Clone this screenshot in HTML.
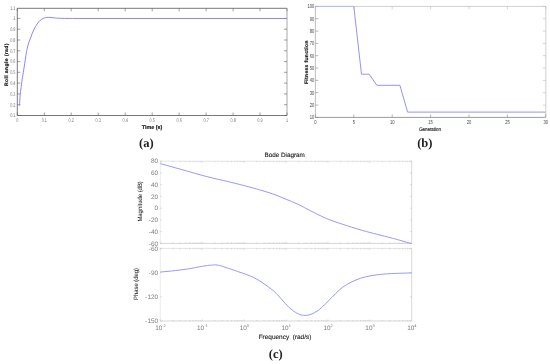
<!DOCTYPE html><html><head><meta charset="utf-8"><title>Figure</title><style>html,body{margin:0;padding:0;background:#fff}svg{display:block}text{font-family:"Liberation Sans",sans-serif;text-rendering:geometricPrecision}.cap{font-family:"Liberation Serif",serif;font-weight:bold;font-size:12.5px;fill:#222}</style></head><body>
<svg width="550" height="364" viewBox="0 0 550 364">
<rect width="550" height="364" fill="#fff"/>
<g stroke="#606060" stroke-width="0.85" fill="none"><path d="M287.0,8.3H17.3V115.5H287.0"/><path d="M287.0,8.3V115.5" stroke="#999"/>
<path d="M17.3,115.5v-3M17.3,8.3v3M17.3,115.5h3M287.0,115.5h-3M44.3,115.5v-3M44.3,8.3v3M17.3,104.7h3M287.0,104.7h-3M71.2,115.5v-3M71.2,8.3v3M17.3,93.9h3M287.0,93.9h-3M98.2,115.5v-3M98.2,8.3v3M17.3,83.1h3M287.0,83.1h-3M125.2,115.5v-3M125.2,8.3v3M17.3,72.3h3M287.0,72.3h-3M152.2,115.5v-3M152.2,8.3v3M17.3,61.6h3M287.0,61.6h-3M179.1,115.5v-3M179.1,8.3v3M17.3,50.8h3M287.0,50.8h-3M206.1,115.5v-3M206.1,8.3v3M17.3,40.0h3M287.0,40.0h-3M233.1,115.5v-3M233.1,8.3v3M17.3,29.2h3M287.0,29.2h-3M260.0,115.5v-3M260.0,8.3v3M17.3,18.4h3M287.0,18.4h-3M287.0,115.5v-3M287.0,8.3v3" stroke-width="0.6"/></g>
<g fill="#777">
<text transform="translate(17.3,121.6) scale(0.72,1)" text-anchor="middle" font-size="5.3">0</text>
<text transform="translate(15.5,117.3) scale(0.72,1)" text-anchor="end" font-size="5.3">0.1</text>
<text transform="translate(44.3,121.6) scale(0.72,1)" text-anchor="middle" font-size="5.3">0.1</text>
<text transform="translate(15.5,106.5) scale(0.72,1)" text-anchor="end" font-size="5.3">0.2</text>
<text transform="translate(71.2,121.6) scale(0.72,1)" text-anchor="middle" font-size="5.3">0.2</text>
<text transform="translate(15.5,95.7) scale(0.72,1)" text-anchor="end" font-size="5.3">0.3</text>
<text transform="translate(98.2,121.6) scale(0.72,1)" text-anchor="middle" font-size="5.3">0.3</text>
<text transform="translate(15.5,84.9) scale(0.72,1)" text-anchor="end" font-size="5.3">0.4</text>
<text transform="translate(125.2,121.6) scale(0.72,1)" text-anchor="middle" font-size="5.3">0.4</text>
<text transform="translate(15.5,74.1) scale(0.72,1)" text-anchor="end" font-size="5.3">0.5</text>
<text transform="translate(152.2,121.6) scale(0.72,1)" text-anchor="middle" font-size="5.3">0.5</text>
<text transform="translate(15.5,63.4) scale(0.72,1)" text-anchor="end" font-size="5.3">0.6</text>
<text transform="translate(179.1,121.6) scale(0.72,1)" text-anchor="middle" font-size="5.3">0.6</text>
<text transform="translate(15.5,52.6) scale(0.72,1)" text-anchor="end" font-size="5.3">0.7</text>
<text transform="translate(206.1,121.6) scale(0.72,1)" text-anchor="middle" font-size="5.3">0.7</text>
<text transform="translate(15.5,41.8) scale(0.72,1)" text-anchor="end" font-size="5.3">0.8</text>
<text transform="translate(233.1,121.6) scale(0.72,1)" text-anchor="middle" font-size="5.3">0.8</text>
<text transform="translate(15.5,31.0) scale(0.72,1)" text-anchor="end" font-size="5.3">0.9</text>
<text transform="translate(260.0,121.6) scale(0.72,1)" text-anchor="middle" font-size="5.3">0.9</text>
<text transform="translate(15.5,20.2) scale(0.72,1)" text-anchor="end" font-size="5.3">1</text>
<text transform="translate(287.0,121.6) scale(0.72,1)" text-anchor="middle" font-size="5.3">1</text>
<text transform="translate(15.5,9.9) scale(0.72,1)" text-anchor="end" font-size="5.3">1.1</text>
</g>
<text x="152.1" y="129.3" text-anchor="middle"  font-size="5.4" font-weight="bold" fill="#1a1a1a" stroke="#1a1a1a" stroke-width="0.15" textLength="20.6" lengthAdjust="spacingAndGlyphs">Time (s)</text>
<text transform="translate(7.6,64.8) rotate(-90)" text-anchor="middle" font-size="5" font-weight="bold" fill="#1a1a1a" stroke="#1a1a1a" stroke-width="0.2" textLength="42.4" lengthAdjust="spacing">Roll angle (rad)</text>
<path d="M19.9,104.2L19.5,105.4L19.50,105.40C19.62,103.58 19.80,98.52 20.20,94.50C20.60,90.48 21.45,84.60 21.90,81.30C22.35,78.00 22.42,77.72 22.90,74.70C23.38,71.68 24.25,66.73 24.80,63.20C25.35,59.67 25.78,56.00 26.20,53.50C26.62,51.00 26.87,50.03 27.30,48.20C27.73,46.37 28.25,44.22 28.80,42.50C29.35,40.78 30.03,39.40 30.60,37.90C31.17,36.40 31.65,34.87 32.20,33.50C32.75,32.13 33.35,30.87 33.90,29.70C34.45,28.53 34.95,27.47 35.50,26.50C36.05,25.53 36.65,24.68 37.20,23.90C37.75,23.12 38.25,22.43 38.80,21.80C39.35,21.17 39.97,20.57 40.50,20.10C41.03,19.63 41.45,19.33 42.00,19.00C42.55,18.67 43.22,18.33 43.80,18.10C44.38,17.87 44.95,17.72 45.50,17.60C46.05,17.48 46.35,17.42 47.10,17.40C47.85,17.38 49.05,17.45 50.00,17.50C50.95,17.55 51.97,17.62 52.80,17.70C53.63,17.78 54.17,17.92 55.00,18.00C55.83,18.08 56.23,18.13 57.80,18.20C59.37,18.27 60.70,18.35 64.40,18.40C68.10,18.45 77.40,18.48 80.00,18.50H287" fill="none" stroke="#8080ff" stroke-width="0.95" stroke-linejoin="round"/>
<text class="cap" x="146.3" y="147.2" text-anchor="middle">(a)</text>
<g stroke-width="0.8" fill="none"><path d="M315.4,6.4H545.8V117.4" stroke="#c4c4c4"/><path d="M315.4,6.4V117.4" stroke="#a4a4a4" stroke-width="0.7"/><path d="M315.4,117.4H545.8" stroke="#808080"/>
<path d="M315.4,117.4v-3M353.8,117.4v-3M392.2,117.4v-3M430.6,117.4v-3M469.0,117.4v-3M507.4,117.4v-3M545.8,117.4v-3M315.4,117.4h3M315.4,105.1h3M315.4,92.7h3M315.4,80.4h3M315.4,68.1h3M315.4,55.7h3M315.4,43.4h3M315.4,31.1h3M315.4,18.7h3M315.4,6.4h3" stroke="#888" stroke-width="0.6"/><path d="M315.4,6.4v3M353.8,6.4v3M392.2,6.4v3M430.6,6.4v3M469.0,6.4v3M507.4,6.4v3M545.8,6.4v3M545.8,117.4h-3M545.8,105.1h-3M545.8,92.7h-3M545.8,80.4h-3M545.8,68.1h-3M545.8,55.7h-3M545.8,43.4h-3M545.8,31.1h-3M545.8,18.7h-3M545.8,6.4h-3" stroke="#bbb" stroke-width="0.6"/></g>
<g fill="#444">
<text transform="translate(315.4,123.8) scale(0.72,1)" text-anchor="middle" font-size="5.7">0</text>
<text transform="translate(353.8,123.8) scale(0.72,1)" text-anchor="middle" font-size="5.7">5</text>
<text transform="translate(392.2,123.8) scale(0.72,1)" text-anchor="middle" font-size="5.7">10</text>
<text transform="translate(430.6,123.8) scale(0.72,1)" text-anchor="middle" font-size="5.7">15</text>
<text transform="translate(469.0,123.8) scale(0.72,1)" text-anchor="middle" font-size="5.7">20</text>
<text transform="translate(507.4,123.8) scale(0.72,1)" text-anchor="middle" font-size="5.7">25</text>
<text transform="translate(545.8,123.8) scale(0.72,1)" text-anchor="middle" font-size="5.7">30</text>
<text transform="translate(314.4,119.3) scale(0.72,1)" text-anchor="end" font-size="5.7">10</text>
<text transform="translate(314.4,107.0) scale(0.72,1)" text-anchor="end" font-size="5.7">20</text>
<text transform="translate(314.4,94.6) scale(0.72,1)" text-anchor="end" font-size="5.7">30</text>
<text transform="translate(314.4,82.3) scale(0.72,1)" text-anchor="end" font-size="5.7">40</text>
<text transform="translate(314.4,70.0) scale(0.72,1)" text-anchor="end" font-size="5.7">50</text>
<text transform="translate(314.4,57.6) scale(0.72,1)" text-anchor="end" font-size="5.7">60</text>
<text transform="translate(314.4,45.3) scale(0.72,1)" text-anchor="end" font-size="5.7">70</text>
<text transform="translate(314.4,33.0) scale(0.72,1)" text-anchor="end" font-size="5.7">80</text>
<text transform="translate(314.4,20.6) scale(0.72,1)" text-anchor="end" font-size="5.7">90</text>
<text transform="translate(314.4,8.3) scale(0.72,1)" text-anchor="end" font-size="5.7">100</text>
</g>
<text x="430" y="131.1" text-anchor="middle" font-size="5.4" fill="#222" stroke="#222" stroke-width="0.15" textLength="21.7" lengthAdjust="spacingAndGlyphs">Generation</text>
<text transform="translate(307.7,62.3) rotate(-90)" text-anchor="middle" font-size="5" font-weight="bold" fill="#1a1a1a" stroke="#1a1a1a" stroke-width="0.2" textLength="43.6" lengthAdjust="spacing">Fitness function</text>
<path d="M315.4,6.4H353.8" stroke="#b4b4ff" stroke-width="0.9"/>
<polyline points="353.8,6.4 361.5,74.2 369.2,74.2 376.8,85.3 399.9,85.3 407.6,112.1 545.8,112.1" fill="none" stroke="#8c8cff" stroke-width="0.95" stroke-linejoin="round"/>
<text class="cap" x="424.8" y="146.9" text-anchor="middle">(b)</text>
<g stroke-width="0.7" fill="none">
<path d="M160.3,161.2V243.4" stroke="#e2e2e2"/><path d="M160.3,161.2H411.7" stroke="#d8d8d8"/><path d="M160.3,243.4H411.7" stroke="#c4c4c4"/><path d="M411.7,161.2V243.4" stroke="#c8c8c8"/>
<path d="M160.3,248.4V321.0" stroke="#e2e2e2"/><path d="M160.3,248.4H411.7" stroke="#d8d8d8"/><path d="M160.3,321.0H411.7" stroke="#c4c4c4"/><path d="M411.7,248.4V321.0" stroke="#c8c8c8"/>
<path d="M160.3,243.4v-1.6M160.3,161.2v1.6M160.3,321.0v-1.6M160.3,248.4v1.6M172.9,243.4v-1.0M172.9,161.2v1.0M172.9,321.0v-1.0M172.9,248.4v1.0M180.3,243.4v-1.0M180.3,161.2v1.0M180.3,321.0v-1.0M180.3,248.4v1.0M185.5,243.4v-1.0M185.5,161.2v1.0M185.5,321.0v-1.0M185.5,248.4v1.0M189.6,243.4v-1.0M189.6,161.2v1.0M189.6,321.0v-1.0M189.6,248.4v1.0M192.9,243.4v-1.0M192.9,161.2v1.0M192.9,321.0v-1.0M192.9,248.4v1.0M195.7,243.4v-1.0M195.7,161.2v1.0M195.7,321.0v-1.0M195.7,248.4v1.0M198.1,243.4v-1.0M198.1,161.2v1.0M198.1,321.0v-1.0M198.1,248.4v1.0M200.3,243.4v-1.0M200.3,161.2v1.0M200.3,321.0v-1.0M200.3,248.4v1.0M202.2,243.4v-1.6M202.2,161.2v1.6M202.2,321.0v-1.6M202.2,248.4v1.6M214.8,243.4v-1.0M214.8,161.2v1.0M214.8,321.0v-1.0M214.8,248.4v1.0M222.2,243.4v-1.0M222.2,161.2v1.0M222.2,321.0v-1.0M222.2,248.4v1.0M227.4,243.4v-1.0M227.4,161.2v1.0M227.4,321.0v-1.0M227.4,248.4v1.0M231.5,243.4v-1.0M231.5,161.2v1.0M231.5,321.0v-1.0M231.5,248.4v1.0M234.8,243.4v-1.0M234.8,161.2v1.0M234.8,321.0v-1.0M234.8,248.4v1.0M237.6,243.4v-1.0M237.6,161.2v1.0M237.6,321.0v-1.0M237.6,248.4v1.0M240.0,243.4v-1.0M240.0,161.2v1.0M240.0,321.0v-1.0M240.0,248.4v1.0M242.2,243.4v-1.0M242.2,161.2v1.0M242.2,321.0v-1.0M242.2,248.4v1.0M244.1,243.4v-1.6M244.1,161.2v1.6M244.1,321.0v-1.6M244.1,248.4v1.6M256.7,243.4v-1.0M256.7,161.2v1.0M256.7,321.0v-1.0M256.7,248.4v1.0M264.1,243.4v-1.0M264.1,161.2v1.0M264.1,321.0v-1.0M264.1,248.4v1.0M269.3,243.4v-1.0M269.3,161.2v1.0M269.3,321.0v-1.0M269.3,248.4v1.0M273.4,243.4v-1.0M273.4,161.2v1.0M273.4,321.0v-1.0M273.4,248.4v1.0M276.7,243.4v-1.0M276.7,161.2v1.0M276.7,321.0v-1.0M276.7,248.4v1.0M279.5,243.4v-1.0M279.5,161.2v1.0M279.5,321.0v-1.0M279.5,248.4v1.0M281.9,243.4v-1.0M281.9,161.2v1.0M281.9,321.0v-1.0M281.9,248.4v1.0M284.1,243.4v-1.0M284.1,161.2v1.0M284.1,321.0v-1.0M284.1,248.4v1.0M286.0,243.4v-1.6M286.0,161.2v1.6M286.0,321.0v-1.6M286.0,248.4v1.6M298.6,243.4v-1.0M298.6,161.2v1.0M298.6,321.0v-1.0M298.6,248.4v1.0M306.0,243.4v-1.0M306.0,161.2v1.0M306.0,321.0v-1.0M306.0,248.4v1.0M311.2,243.4v-1.0M311.2,161.2v1.0M311.2,321.0v-1.0M311.2,248.4v1.0M315.3,243.4v-1.0M315.3,161.2v1.0M315.3,321.0v-1.0M315.3,248.4v1.0M318.6,243.4v-1.0M318.6,161.2v1.0M318.6,321.0v-1.0M318.6,248.4v1.0M321.4,243.4v-1.0M321.4,161.2v1.0M321.4,321.0v-1.0M321.4,248.4v1.0M323.8,243.4v-1.0M323.8,161.2v1.0M323.8,321.0v-1.0M323.8,248.4v1.0M326.0,243.4v-1.0M326.0,161.2v1.0M326.0,321.0v-1.0M326.0,248.4v1.0M327.9,243.4v-1.6M327.9,161.2v1.6M327.9,321.0v-1.6M327.9,248.4v1.6M340.5,243.4v-1.0M340.5,161.2v1.0M340.5,321.0v-1.0M340.5,248.4v1.0M347.9,243.4v-1.0M347.9,161.2v1.0M347.9,321.0v-1.0M347.9,248.4v1.0M353.1,243.4v-1.0M353.1,161.2v1.0M353.1,321.0v-1.0M353.1,248.4v1.0M357.2,243.4v-1.0M357.2,161.2v1.0M357.2,321.0v-1.0M357.2,248.4v1.0M360.5,243.4v-1.0M360.5,161.2v1.0M360.5,321.0v-1.0M360.5,248.4v1.0M363.3,243.4v-1.0M363.3,161.2v1.0M363.3,321.0v-1.0M363.3,248.4v1.0M365.7,243.4v-1.0M365.7,161.2v1.0M365.7,321.0v-1.0M365.7,248.4v1.0M367.9,243.4v-1.0M367.9,161.2v1.0M367.9,321.0v-1.0M367.9,248.4v1.0M369.8,243.4v-1.6M369.8,161.2v1.6M369.8,321.0v-1.6M369.8,248.4v1.6M382.4,243.4v-1.0M382.4,161.2v1.0M382.4,321.0v-1.0M382.4,248.4v1.0M389.8,243.4v-1.0M389.8,161.2v1.0M389.8,321.0v-1.0M389.8,248.4v1.0M395.0,243.4v-1.0M395.0,161.2v1.0M395.0,321.0v-1.0M395.0,248.4v1.0M399.1,243.4v-1.0M399.1,161.2v1.0M399.1,321.0v-1.0M399.1,248.4v1.0M402.4,243.4v-1.0M402.4,161.2v1.0M402.4,321.0v-1.0M402.4,248.4v1.0M405.2,243.4v-1.0M405.2,161.2v1.0M405.2,321.0v-1.0M405.2,248.4v1.0M407.6,243.4v-1.0M407.6,161.2v1.0M407.6,321.0v-1.0M407.6,248.4v1.0M409.8,243.4v-1.0M409.8,161.2v1.0M409.8,321.0v-1.0M409.8,248.4v1.0M160.3,161.2h1.6M411.7,161.2h-1.6M160.3,172.9h1.6M411.7,172.9h-1.6M160.3,184.7h1.6M411.7,184.7h-1.6M160.3,196.4h1.6M411.7,196.4h-1.6M160.3,208.2h1.6M411.7,208.2h-1.6M160.3,219.9h1.6M411.7,219.9h-1.6M160.3,231.7h1.6M411.7,231.7h-1.6M160.3,243.4h1.6M411.7,243.4h-1.6M160.3,248.4h1.6M411.7,248.4h-1.6M160.3,272.6h1.6M411.7,272.6h-1.6M160.3,296.8h1.6M411.7,296.8h-1.6M160.3,321.0h1.6M411.7,321.0h-1.6" stroke="#c0c0c0" stroke-width="0.6"/></g>
<g font-size="6.4" fill="#7c7c7c">
<text x="158.1" y="163.4" text-anchor="end">80</text>
<text x="158.1" y="175.1" text-anchor="end">60</text>
<text x="158.1" y="186.9" text-anchor="end">40</text>
<text x="158.1" y="198.6" text-anchor="end">20</text>
<text x="158.1" y="210.4" text-anchor="end">0</text>
<text x="158.1" y="222.1" text-anchor="end">-20</text>
<text x="158.1" y="233.9" text-anchor="end">-40</text>
<text x="158.1" y="245.6" text-anchor="end">-60</text>
<text x="158.1" y="250.6" text-anchor="end">-60</text>
<text x="158.1" y="274.8" text-anchor="end">-90</text>
<text x="158.1" y="299.0" text-anchor="end">-120</text>
<text x="158.1" y="323.2" text-anchor="end">-150</text>
<text x="160.5" y="330.3" text-anchor="middle">10<tspan font-size="4" dy="-2.9">-2</tspan></text>
<text x="202.4" y="330.3" text-anchor="middle">10<tspan font-size="4" dy="-2.9">-1</tspan></text>
<text x="244.3" y="330.3" text-anchor="middle">10<tspan font-size="4" dy="-2.9">0</tspan></text>
<text x="286.2" y="330.3" text-anchor="middle">10<tspan font-size="4" dy="-2.9">1</tspan></text>
<text x="328.1" y="330.3" text-anchor="middle">10<tspan font-size="4" dy="-2.9">2</tspan></text>
<text x="370.0" y="330.3" text-anchor="middle">10<tspan font-size="4" dy="-2.9">3</tspan></text>
<text x="411.9" y="330.3" text-anchor="middle">10<tspan font-size="4" dy="-2.9">4</tspan></text>
</g>
<text x="284.7" y="157.4" text-anchor="middle" font-size="6.3" fill="#222" stroke="#222" stroke-width="0.12" textLength="40.4" lengthAdjust="spacingAndGlyphs">Bode Diagram</text>
<text x="285" y="339.2" text-anchor="middle" font-size="6.3" fill="#222" stroke="#222" stroke-width="0.12" style="white-space:pre" textLength="52.7" lengthAdjust="spacingAndGlyphs">Frequency  (rad/s)</text>
<text transform="translate(141.8,201.4) rotate(-90)" text-anchor="middle" font-size="6.2" fill="#111" textLength="40.4" lengthAdjust="spacingAndGlyphs">Magnitude (dB)</text>
<text transform="translate(138.1,284) rotate(-90)" text-anchor="middle" font-size="6.2" fill="#111" textLength="32" lengthAdjust="spacingAndGlyphs">Phase (deg)</text>
<path d="M160.30,163.60C163.77,164.57 173.28,167.22 181.10,169.40C188.92,171.58 199.37,174.67 207.20,176.70C215.03,178.73 221.57,180.02 228.10,181.60C234.63,183.18 241.18,184.83 246.40,186.20C251.62,187.57 255.05,188.53 259.40,189.80C263.75,191.07 268.23,192.30 272.50,193.80C276.77,195.30 280.73,197.05 285.00,198.80C289.27,200.55 293.75,202.25 298.10,204.30C302.45,206.35 306.75,208.90 311.10,211.10C315.45,213.30 320.55,215.85 324.20,217.50C327.85,219.15 329.97,219.88 333.00,221.00C336.03,222.12 337.35,222.58 342.40,224.20C347.45,225.82 355.37,228.47 363.30,230.70C371.23,232.93 383.88,236.00 390.00,237.60C396.12,239.20 396.38,239.28 400.00,240.30C403.62,241.32 409.75,243.13 411.70,243.70" fill="none" stroke="#9292ff" stroke-width="0.95" stroke-linejoin="round"/>
<path d="M160.30,272.00C162.17,271.83 166.87,271.52 171.50,271.00C176.13,270.48 182.97,269.68 188.10,268.90C193.23,268.12 198.37,266.93 202.30,266.30C206.23,265.67 209.15,265.30 211.70,265.10C214.25,264.90 215.23,264.70 217.60,265.10C219.97,265.50 222.55,266.43 225.90,267.50C229.25,268.57 233.75,270.13 237.70,271.50C241.65,272.87 246.05,274.20 249.60,275.70C253.15,277.20 255.47,278.33 259.00,280.50C262.53,282.67 267.65,286.27 270.80,288.70C273.95,291.13 275.53,292.68 277.90,295.10C280.27,297.52 282.63,300.72 285.00,303.20C287.37,305.68 289.73,308.15 292.10,310.00C294.47,311.85 297.03,313.40 299.20,314.30C301.37,315.20 303.13,315.40 305.10,315.40C307.07,315.40 308.83,315.12 311.00,314.30C313.17,313.48 315.73,312.20 318.10,310.50C320.47,308.80 322.83,306.35 325.20,304.10C327.57,301.85 329.93,299.37 332.30,297.00C334.67,294.63 337.03,291.95 339.40,289.90C341.77,287.85 343.75,286.35 346.50,284.70C349.25,283.05 352.75,281.30 355.90,280.00C359.05,278.70 361.85,277.77 365.40,276.90C368.95,276.03 372.87,275.35 377.20,274.80C381.53,274.25 385.65,273.92 391.40,273.60C397.15,273.28 408.32,273.02 411.70,272.90" fill="none" stroke="#9292ff" stroke-width="0.95" stroke-linejoin="round"/>
<text class="cap" x="275.8" y="358.2" text-anchor="middle">(c)</text>
</svg></body></html>
